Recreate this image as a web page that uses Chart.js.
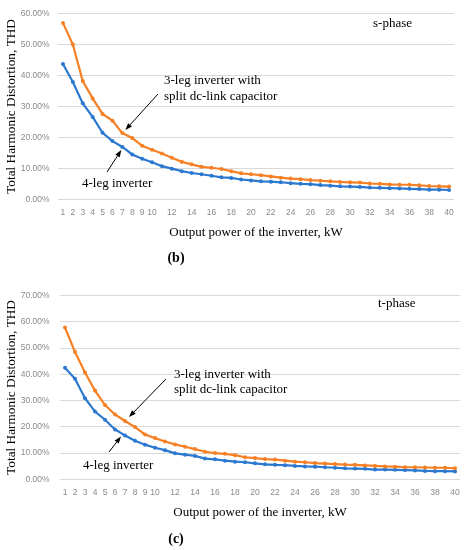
<!DOCTYPE html>
<html>
<head>
<meta charset="utf-8">
<script src="https://cdn.jsdelivr.net/npm/chart.js@4.4.1/dist/chart.umd.min.js"></script>
<style>
  html, body { margin: 0; padding: 0; background: #fff; }
  #wrap { position: relative; width: 470px; height: 550px; overflow: hidden; }
  .box { position: absolute; left: 0; width: 470px; height: 270px; }
  .cap { position: absolute; left: 151px; width: 50px; text-align: center; font: bold 14px "Liberation Serif", serif; line-height: 16px; color: #000; }
</style>
</head>
<body>
<div id="wrap">
  <div class="box" style="top:0"><canvas id="c1" width="470" height="270"></canvas></div>
  <div class="cap" style="top:250px">(b)</div>
  <div class="box" style="top:280px"><canvas id="c2" width="470" height="270"></canvas></div>
  <div class="cap" style="top:531px">(c)</div>
</div>
<script>
// ---- data ----
const powerKW = Array.from({length: 40}, (_, i) => String(i + 1));

const sThreeLeg = [57.0, 50.0, 38.2, 32.6, 27.6, 25.4, 21.4, 19.8, 17.3, 16.0,
                   14.8, 13.4, 12.1, 11.3, 10.5, 10.2, 9.8, 9.1, 8.4, 8.1,
                   7.8, 7.4, 7.0, 6.7, 6.5, 6.2, 6.0, 5.8, 5.6, 5.5,
                   5.4, 5.1, 5.0, 4.8, 4.7, 4.7, 4.5, 4.3, 4.2, 4.1];
const sFourLeg  = [43.7, 37.9, 31.0, 26.6, 21.5, 18.8, 16.9, 14.5, 13.1, 12.0,
                   10.7, 9.9, 9.1, 8.5, 8.1, 7.6, 7.1, 6.9, 6.4, 6.1,
                   5.8, 5.7, 5.5, 5.2, 5.0, 4.9, 4.6, 4.4, 4.2, 4.1,
                   4.0, 3.8, 3.7, 3.6, 3.5, 3.4, 3.3, 3.1, 3.1, 3.0];

const tThreeLeg = [57.8, 48.5, 40.7, 33.8, 28.3, 24.7, 22.2, 19.9, 17.1, 15.7,
                   14.4, 13.3, 12.4, 11.5, 10.5, 10.0, 9.7, 9.2, 8.4, 8.1,
                   7.7, 7.5, 7.1, 6.7, 6.5, 6.2, 6.0, 5.8, 5.6, 5.5,
                   5.3, 5.1, 4.9, 4.8, 4.6, 4.6, 4.5, 4.4, 4.4, 4.2];
const tFourLeg  = [42.5, 38.3, 30.9, 25.8, 22.7, 19.0, 16.7, 14.7, 13.2, 12.0,
                   11.1, 9.9, 9.4, 8.9, 7.9, 7.6, 7.1, 6.7, 6.5, 6.1,
                   5.7, 5.5, 5.4, 5.1, 4.9, 4.8, 4.6, 4.4, 4.2, 4.1,
                   4.0, 3.7, 3.7, 3.6, 3.5, 3.4, 3.2, 3.1, 3.1, 3.0];

const sYMax = 60, tYMax = 70, yStep = 10;
const seriesNames = ['3-leg inverter with split dc-link capacitor', '4-leg inverter'];
const xTitle = 'Output power of the inverter, kW';
const yTitle = 'Total Harmonic Distortion, THD';

// ---- styling ----
const ORANGE = '#F58025';
const BLUE = '#2B78D0';
const SERIF = '"Liberation Serif", "Times New Roman", serif';
const SANS = '"Liberation Sans", Arial, sans-serif';

const notesPlugin = {
  id: 'notes',
  afterDraw(chart, args, opts) {
    const ctx = chart.ctx;
    ctx.save();
    ctx.fillStyle = '#000';
    ctx.font = '13px ' + SERIF;
    ctx.textBaseline = 'middle';
    ctx.textAlign = 'left';
    (opts.texts || []).forEach(t => ctx.fillText(t.t, t.x, t.y));
    ctx.strokeStyle = '#000';
    ctx.lineWidth = 1;
    (opts.arrows || []).forEach(a => {
      const el = chart.getDatasetMeta(a.ds).data[a.i];
      const tx = el.x + a.dx, ty = el.y + a.dy;
      const [sx, sy] = a.tail;
      const ang = Math.atan2(ty - sy, tx - sx);
      const L = 7, W = 2.6;
      const bx = tx - L * Math.cos(ang), by = ty - L * Math.sin(ang);
      ctx.beginPath();
      ctx.moveTo(sx, sy);
      ctx.lineTo(bx, by);
      ctx.stroke();
      ctx.beginPath();
      ctx.moveTo(tx, ty);
      ctx.lineTo(bx + W * Math.sin(ang), by - W * Math.cos(ang));
      ctx.lineTo(bx - W * Math.sin(ang), by + W * Math.cos(ang));
      ctx.closePath();
      ctx.fill();
    });
    ctx.restore();
  }
};

function ds(label, data, color) {
  return {
    label, data,
    borderColor: color, backgroundColor: color,
    borderWidth: 2.2, tension: 0,
    pointRadius: 2, pointHoverRadius: 2,
    pointBorderWidth: 0, pointBackgroundColor: color
  };
}

function makeChart(id, orange, blue, yMax, yWidth, rightPad, notes) {
  return new Chart(document.getElementById(id), {
    type: 'line',
    data: {
      labels: powerKW,
      datasets: [ds(seriesNames[0], orange, ORANGE), ds(seriesNames[1], blue, BLUE)]
    },
    plugins: [notesPlugin],
    options: {
      responsive: false,
      animation: false,
      events: [],
      layout: { padding: { left: 0, right: rightPad, top: 9, bottom: 0 } },
      plugins: {
        legend: { display: false },
        tooltip: { enabled: false },
        notes: notes
      },
      scales: {
        x: {
          offset: true,
          grid: { display: false, drawTicks: false },
          border: { display: false },
          ticks: {
            autoSkip: false, maxRotation: 0, padding: 8,
            color: '#8a8a8a', font: { family: SANS, size: 8.5 },
            callback: function (v, i) { return (i < 10 || (i + 1) % 2 === 0) ? this.getLabelForValue(v) : ''; }
          },
          title: {
            display: true, text: xTitle, color: '#000',
            font: { family: SERIF, size: 13 },
            padding: { top: 0, bottom: 30 }
          },
          afterFit: s => { s.height = 270 - 9 - 190.3; }
        },
        y: {
          min: 0, max: yMax,
          grid: { color: '#d9d9d9', lineWidth: 1, drawTicks: false },
          border: { display: false },
          ticks: {
            stepSize: yStep, padding: yWidth - 49.5,
            color: '#8a8a8a', font: { family: SANS, size: 8.5 },
            callback: v => v.toFixed(2) + '%'
          },
          title: {
            display: true, text: yTitle, color: '#000',
            font: { family: SERIF, size: 13.3 },
            padding: { top: 4, bottom: 0 }
          },
          afterFit: s => { s.width = yWidth; }
        }
      }
    }
  });
}

makeChart('c1', sThreeLeg, sFourLeg, sYMax, 58, 16, {
  texts: [
    { t: 's-phase', x: 373, y: 24 },
    { t: '3-leg inverter with', x: 164, y: 81 },
    { t: 'split dc-link capacitor', x: 164, y: 97 },
    { t: '4-leg inverter', x: 82, y: 184 }
  ],
  arrows: [
    { ds: 0, i: 6, tail: [158, 94], dx: 3, dy: -3 },
    { ds: 1, i: 6, tail: [107, 172], dx: -1, dy: 3 }
  ]
});

makeChart('c2', tThreeLeg, tFourLeg, tYMax, 60, 10, {
  texts: [
    { t: 't-phase', x: 378, y: 24 },
    { t: '3-leg inverter with', x: 174, y: 95 },
    { t: 'split dc-link capacitor', x: 174, y: 110 },
    { t: '4-leg inverter', x: 83, y: 186 }
  ],
  arrows: [
    { ds: 0, i: 6, tail: [166, 99], dx: 4, dy: -4 },
    { ds: 1, i: 6, tail: [109, 172], dx: -4, dy: 1 }
  ]
});
</script>
</body>
</html>
